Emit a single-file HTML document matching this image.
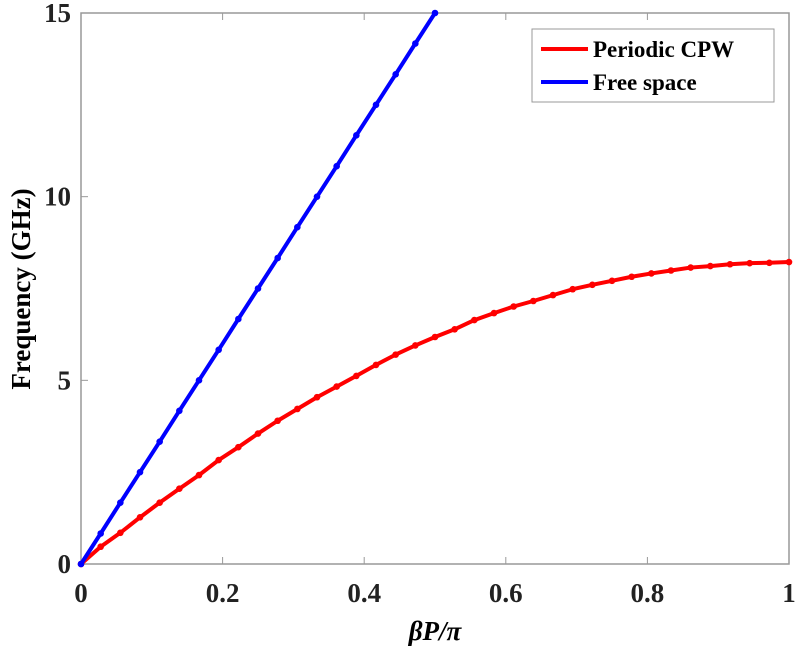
<!DOCTYPE html>
<html><head><meta charset="utf-8"><style>
body{margin:0;background:#fff;}
svg{display:block;font-family:"Liberation Serif",serif;font-weight:bold;}
</style></head><body>
<svg id="chart" width="800" height="652">
<g id="axes"></g>
<g id="series"></g>
<g>
<rect x="532" y="29" width="242" height="73" fill="#fff" stroke="#999" stroke-width="1"/>
<line x1="541" y1="49" x2="588" y2="49" stroke="#ff0000" stroke-width="4"/>
<text x="593" y="57" font-size="23">Periodic CPW</text>
<line x1="541" y1="82" x2="588" y2="82" stroke="#0000ff" stroke-width="4"/>
<text x="593" y="90" font-size="23">Free space</text>
</g>
<text x="435" y="640" font-size="27" text-anchor="middle" font-style="italic">βP/π</text>
<text transform="translate(30,289) rotate(-90)" font-size="27" text-anchor="middle">Frequency (GHz)</text>
</svg>
<script>
const xTicks=[0,0.2,0.4,0.6,0.8,1];
const xTickLabels=["0","0.2","0.4","0.6","0.8","1"];
const yTicks=[0,5,10,15];
const yTickLabels=["0","5","10","15"];
const cpwFreq=[0,0.47,0.85,1.27,1.67,2.05,2.42,2.83,3.18,3.55,3.90,4.22,4.54,4.83,5.12,5.42,5.70,5.95,6.18,6.39,6.64,6.83,7.01,7.16,7.32,7.48,7.60,7.71,7.82,7.91,7.99,8.07,8.11,8.16,8.19,8.20,8.22];
const freeFreq=[0,0.83,1.67,2.5,3.33,4.17,5,5.83,6.67,7.5,8.33,9.17,10,10.83,11.67,12.5,13.33,14.17,15];
const step=1/36;
const L=81,R=789,T=13,B=564;
const sx=v=>L+(R-L)*v, sy=v=>B-(B-T)*v/15;
const NS="http://www.w3.org/2000/svg";
const ax=document.getElementById('axes'), se=document.getElementById('series');
function mk(tag,attrs,parent){const e=document.createElementNS(NS,tag);for(const k in attrs)e.setAttribute(k,attrs[k]);parent.appendChild(e);return e;}
let e=mk('rect',{x:L,y:T,width:R-L,height:B-T,fill:'none',stroke:'#999','stroke-width':1.5},ax);


xTicks.forEach((v,i)=>{
 let t=mk('line',{x1:sx(v),x2:sx(v),y1:B,y2:B-7,stroke:'#999','stroke-width':1},ax);
 
 
 let t2=mk('line',{x1:sx(v),x2:sx(v),y1:T,y2:T+7,stroke:'#999','stroke-width':1},ax);
 
 
 let l=mk('text',{x:sx(v),y:602,'font-size':27,'text-anchor':'middle',fill:'#222'},ax);
 l.textContent=xTickLabels[i];
 
 
});
yTicks.forEach((v,i)=>{
 let t=mk('line',{x1:L,x2:L+7,y1:sy(v),y2:sy(v),stroke:'#999','stroke-width':1},ax);
 
 
 let l=mk('text',{x:71,y:sy(v)+9,'font-size':27,'text-anchor':'end',fill:'#222'},ax);
 l.textContent=yTickLabels[i];
 
 
});
function series(vals,color,name){
 const pts=vals.map((v,i)=>sx(i*step)+','+sy(v)).join(' ');
 let p=mk('polyline',{points:pts,fill:'none',stroke:color,'stroke-width':4,'stroke-linejoin':'round'},se);
 
 
 vals.forEach((v,i)=>{
  let m=mk('circle',{cx:sx(i*step),cy:sy(v),r:3.3,fill:color},se);
  
  
 });
}
series(cpwFreq,'#ff0000','periodic-cpw');
series(freeFreq,'#0000ff','free-space');
</script>
</body></html>
